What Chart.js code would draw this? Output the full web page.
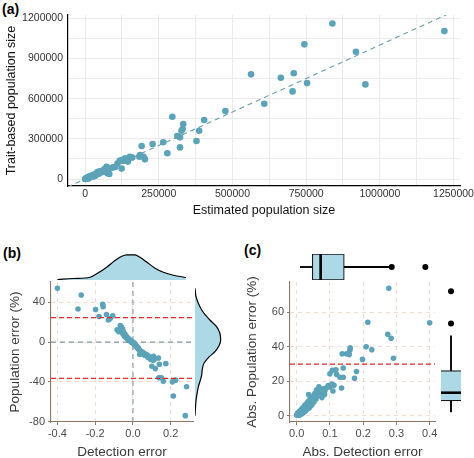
<!DOCTYPE html>
<html>
<head>
<meta charset="utf-8">
<script src="https://cdn.jsdelivr.net/npm/chart.js@4.4.1/dist/chart.umd.min.js"></script>
<style>
  body { margin: 0; background: #fff; width: 474px; height: 458px; overflow: hidden; position: relative; }
  canvas, .tag { position: absolute; }
  .tag { font-family: 'Liberation Sans', Arial, sans-serif; font-weight: bold; font-size: 14px; line-height: 14px; color: #000; }
</style>
</head>
<body>
<div class="tag" style="left:2px;top:2px">(a)</div>
<div class="tag" style="left:3px;top:246px">(b)</div>
<div class="tag" style="left:244px;top:243px">(c)</div>
<canvas id="chartA" width="474" height="230" style="left:0;top:0"></canvas>
<canvas id="chartB" width="237" height="240" style="left:0;top:230px"></canvas>
<canvas id="densTop" width="142" height="30" style="left:51px;top:250px"></canvas>
<canvas id="densRight" width="30" height="140" style="left:195px;top:282px"></canvas>
<canvas id="chartC" width="237" height="240" style="left:237px;top:230px"></canvas>
<canvas id="boxTop" width="145" height="34" style="left:290px;top:250px"></canvas>
<canvas id="boxRight" width="28" height="140" style="left:437px;top:282px"></canvas>
<script>
// ---- (a) estimated vs trait-based population size
const estPop = [839000, 1219000, 744000, 919000, 563000, 664000, 708000, 753000, 951000, 704000,
  608000, 476000, 296000, 404000, 333000, 331000, 327000, 387000, 313000, 322000,
  378000, 322000, 265000, 229000, 192000, 279000, 186000, 198000, 203000, 184000,
  152000, 147000, 136000, 126000, 130000, 124000, 85000, 73000, 77000, 68000,
  76000, 82000, 95000, 102000, 160000, 140000, 60000, 55000, 48000, 42000,
  38000, 35000, 30000, 26000, 22000, 18000, 15000, 11000, 8000, 5000,
  2000, 0, 3000, 13000, 20000, 28000, 45000, 50000, 65000, 70000,
  90000, 110000, 145000, 118000, 33000, 10000];
const traitPop = [1161000, 1104000, 1005000, 950000, 781000, 756000, 789000, 716000, 706000, 654000,
  562000, 507000, 465000, 440000, 410000, 373000, 360000, 360000, 321000, 311000,
  284000, 236000, 274000, 261000, 246000, 192000, 179000, 166000, 147000, 166000,
  166000, 147000, 154000, 142000, 134000, 78000, 80000, 92000, 67000, 54000,
  43000, 37000, 88000, 90000, 160000, 150000, 60000, 50000, 46000, 52000,
  40000, 28000, 34000, 22000, 26000, 15000, 20000, 10000, 12000, 4000,
  1000, 0, 6000, 8000, 18000, 20000, 38000, 58000, 72000, 78000,
  82000, 115000, 130000, 138000, 22000, 3000];
const aTicksX = [0, 250000, 500000, 750000, 1000000, 1250000];
const aMinorX = [125000, 375000, 625000, 875000, 1125000];
const aTicksY = [0, 300000, 600000, 900000, 1200000];
const aMinorY = [150000, 450000, 750000, 1050000];
const oneToOne = [-60000, 1300000];

// ---- (b) detection error vs population error (%)
const detErr = [-0.400, -0.274, -0.291, -0.198, -0.160, -0.158, -0.180, -0.140, -0.130, -0.107,
  -0.120, -0.084, -0.067, -0.060, -0.076, -0.062, -0.058, -0.055, -0.052, -0.050,
  -0.047, -0.045, -0.042, -0.040, -0.037, -0.035, -0.032, -0.030, -0.027, -0.025,
  -0.022, -0.020, -0.017, -0.015, -0.012, -0.010, -0.007, -0.005, -0.002, 0.000,
  0.003, 0.006, 0.008, 0.011, 0.014, 0.016, 0.019, 0.022, 0.025, 0.028,
  0.031, 0.034, 0.036, 0.038, 0.041, 0.044, 0.047, 0.050, 0.053, 0.056,
  0.060, 0.064, 0.068, 0.072, 0.076, 0.080, 0.085, 0.090, 0.095, 0.100,
  0.106, 0.109, 0.112, 0.100, 0.118, 0.135, 0.140, 0.174, 0.137, 0.150,
  0.161, 0.209, 0.226, 0.214, 0.284, 0.277];
const popErr = [54.0, 47.3, 33.3, 32.7, 38.0, 35.5, 25.7, 27.7, 22.3, 26.3,
  24.0, 12.3, 16.7, 15.0, 10.5, 11.5, 9.5, 12.8, 8.0, 10.2,
  7.0, 6.0, 7.8, 5.2, 4.5, 5.8, 3.8, 4.6, 3.0, 2.4,
  3.2, 1.8, 1.2, 2.0, 0.6, 1.0, -0.2, 0.4, -0.8, -0.3,
  -1.5, -1.0, -2.4, -3.0, -2.6, -4.0, -4.6, -5.0, -6.2, -5.8,
  -7.2, -8.0, -12.3, -8.8, -9.8, -10.4, -11.0, -10.0, -12.0, -12.6,
  -11.5, -13.2, -12.3, -14.0, -13.0, -15.6, -14.5, -16.2, -17.5, -16.7,
  -18.4, -14.3, -17.7, -24.3, -26.7, -16.0, -22.3, -21.7, -36.0, -36.0,
  -39.5, -40.0, -38.3, -54.3, -45.0, -74.0];
const popErrLimits = [24.5, -36.6];
const bTicksX = [-0.4, -0.2, 0, 0.2];
const bTicksY = [-80, -40, 0, 40];
// marginal densities (relative height, peak = 1)
const densDetX = [-0.40, -0.316, -0.227, -0.183, -0.139, -0.095, -0.059, -0.033, 0.011, 0.037, 0.073, 0.117, 0.161, 0.214, 0.281];
const densDetY = [0.02, 0.06, 0.11, 0.29, 0.51, 0.77, 0.94, 1.0, 1.0, 0.90, 0.71, 0.47, 0.31, 0.19, 0.10];
const densPopY = [54.1, 45.7, 39.1, 30.7, 22.2, 15.5, 8.9, 2.1, -3.0, -9.7, -14.7, -21.4, -28.3, -33.2, -39.9, -45.0, -53.4, -61.7, -74.2];
const densPopX = [0, 0.04, 0.13, 0.30, 0.58, 0.84, 0.97, 1.0, 0.95, 0.78, 0.56, 0.35, 0.28, 0.26, 0.19, 0.13, 0.07, 0.03, 0];

// ---- (c) absolute errors, same populations as (b)
const absDet = detErr.map(Math.abs);
const absPop = popErr.map(Math.abs);
const absPopLimit = 30;
const cTicksX = [0, 0.1, 0.2, 0.3, 0.4];
const cTicksY = [0, 20, 40, 60];
// boxplots: [lower whisker, q1, median, q3, upper whisker]
const boxDet = [0, 0.038, 0.068, 0.14, 0.285];
const boxDetOut = [0.291, 0.398];
const boxPop = [0, 6.8, 12.6, 25.5, 47];
const boxPopOut = [54.5, 74.5];

// ranges of the panels
const aX = [-58000, 1272000], aY = [-52000, 1224000];
const bX = [-0.434, 0.318], bY = [-80.4, 60.4];
const cX = [-0.02, 0.416], cY = [-3.7, 77.7];

const pointCol = '#5ba3b9';
const fillCol = '#add8e6';
const red = '#e8262b';
const axisBrown = '#8b7765';

Chart.defaults.font.family = "'Liberation Sans', Arial, sans-serif";
Chart.defaults.animation = false;
Chart.defaults.events = [];
Chart.defaults.plugins.legend.display = false;
Chart.defaults.plugins.tooltip.enabled = false;

const fixed = (w, h) => (s) => {
  if (w != null) s.width = w;
  if (h != null) s.height = h;
  s.paddingLeft = s.paddingRight = s.paddingTop = s.paddingBottom = 0;
};
const useTicks = (vals) => (s) => { s.ticks = vals.map(v => ({ value: v })); };
const pairs = (xs, ys) => xs.map((x, i) => ({ x: x, y: ys[i] }));

// ---------- panel (a)
new Chart(document.getElementById('chartA'), {
  type: 'scatter',
  data: {
    datasets: [
      { data: pairs(estPop, traitPop), pointRadius: 3.3, pointBackgroundColor: pointCol, pointBorderWidth: 0, order: 2 },
      { data: pairs(oneToOne, oneToOne), showLine: true, pointRadius: 0, borderColor: '#6b9dab', borderWidth: 1.1, borderDash: [5, 4], order: 1 },
    ],
  },
  options: {
    responsive: false,
    layout: { padding: { top: 15, right: 14, left: 0, bottom: 0 } },
    scales: {
      x: {
        type: 'linear', min: aX[0], max: aX[1],
        afterBuildTicks: useTicks(aTicksX.concat(aMinorX).sort((p, q) => p - q)),
        afterFit: fixed(null, 44),
        grid: { color: '#ebebeb', drawTicks: false },
        border: { color: '#000', width: 1.2 },
        ticks: { autoSkip: false, maxRotation: 0, padding: 2, color: '#333', font: { size: 10.5 },
          callback: v => aTicksX.includes(v) ? String(v) : '' },
        title: { display: true, text: 'Estimated population size', color: '#111', font: { size: 12.5 }, padding: { top: 0, bottom: 12 } },
      },
      y: {
        type: 'linear', min: aY[0], max: aY[1],
        afterBuildTicks: useTicks(aTicksY.concat(aMinorY).sort((p, q) => p - q)),
        afterFit: fixed(68, null),
        grid: { color: '#ebebeb', drawTicks: false },
        border: { color: '#000', width: 1.2 },
        ticks: { autoSkip: false, padding: 5, color: '#333', font: { size: 10.5 },
          callback: v => aTicksY.includes(v) ? String(v) : '' },
        title: { display: true, text: 'Trait-based population size', color: '#111', font: { size: 12.5 }, padding: { top: 4.5, bottom: 0 } },
      },
    },
  },
});

// shared look of the (b) and (c) axes
function dashedAxis(range, ticks, width, height, fmt, title, titlePad) {
  return {
    type: 'linear', min: range[0], max: range[1],
    afterBuildTicks: useTicks(ticks),
    afterFit: fixed(width, height),
    grid: { color: '#f0dcd2', lineWidth: 1, drawTicks: true, tickLength: 3, tickColor: axisBrown, tickBorderDash: [] },
    border: { color: axisBrown, width: 1.1, dash: [4, 4] },
    ticks: { autoSkip: false, maxRotation: 0, padding: width ? 3 : 2, color: '#4d4d4d', font: { size: 11 }, callback: fmt },
    title: { display: true, text: title, color: '#3a3a3a', font: { size: 13.5 }, padding: titlePad },
  };
}
const hLine = (y, xr, col, dash, order) => ({
  data: [{ x: xr[0], y: y }, { x: xr[1], y: y }], showLine: true, pointRadius: 0,
  borderColor: col, borderWidth: 1.3, borderDash: dash, order: order,
});

// ---------- panel (b)
new Chart(document.getElementById('chartB'), {
  type: 'scatter',
  data: {
    datasets: [
      { data: pairs(detErr, popErr), pointRadius: 2.8, pointBackgroundColor: pointCol, pointBorderWidth: 0, order: 2 },
      ...popErrLimits.map(v => hLine(v, bX, red, [5, 3], 1)),
      hLine(0, bX, '#7f9aa6', [5, 4], 3),
      { data: [{ x: 0, y: bY[0] }, { x: 0, y: bY[1] }], showLine: true, pointRadius: 0, borderColor: '#7f9aa6', borderWidth: 1.1, borderDash: [5, 4], order: 3 },
    ],
  },
  options: {
    responsive: false,
    layout: { padding: { top: 52, right: 44, left: 0, bottom: 0 } },
    scales: {
      x: dashedAxis(bX, bTicksX, null, 48, v => v.toFixed(1), 'Detection error', { top: 0, bottom: 10 }),
      y: dashedAxis(bY, bTicksY, 51, null, v => String(v), 'Population error (%)', { top: 7, bottom: 0 }),
    },
  },
});

// marginal density along the top of (b)
new Chart(document.getElementById('densTop'), {
  type: 'line',
  data: {
    datasets: [{
      data: pairs(densDetX, densDetY), fill: 'origin', backgroundColor: fillCol,
      borderColor: '#000', borderWidth: 1.2, pointRadius: 0, cubicInterpolationMode: 'monotone',
    }],
  },
  options: {
    responsive: false,
    scales: {
      x: { type: 'linear', min: bX[0], max: bX[1], display: false },
      y: { type: 'linear', min: 0, max: 1.19, display: false },
    },
  },
});

// marginal density on the right of (b)
new Chart(document.getElementById('densRight'), {
  type: 'line',
  data: {
    datasets: [{
      data: pairs(densPopX, densPopY), fill: 'origin', backgroundColor: fillCol,
      borderColor: '#000', borderWidth: 1.2, pointRadius: 0, cubicInterpolationMode: 'monotone',
    }],
  },
  options: {
    responsive: false,
    indexAxis: 'y',
    scales: {
      x: { type: 'linear', min: 0, max: 1.17, display: false },
      y: { type: 'linear', min: bY[0], max: bY[1], display: false },
    },
  },
});

// ---------- panel (c)
new Chart(document.getElementById('chartC'), {
  type: 'scatter',
  data: {
    datasets: [
      { data: pairs(absDet, absPop), pointRadius: 2.8, pointBackgroundColor: pointCol, pointBorderWidth: 0, order: 2 },
      hLine(absPopLimit, cX, red, [5, 3], 1),
    ],
  },
  options: {
    responsive: false,
    layout: { padding: { top: 52, right: 39, left: 0, bottom: 0 } },
    scales: {
      x: dashedAxis(cX, cTicksX, null, 48, v => v.toFixed(1), 'Abs. Detection error', { top: 0, bottom: 10 }),
      y: dashedAxis(cY, cTicksY, 53, null, v => String(v), 'Abs. Population error (%)', { top: 7, bottom: 0 }),
    },
  },
});

// boxplot made of floating bars: whiskers, box, median edge, outliers
function boxDatasets(st, outliers, horizontal) {
  const thin = { barThickness: 1.2, backgroundColor: '#000', borderWidth: 0, grouped: false };
  const medEdge = horizontal ? { top: 0, right: 2, bottom: 0, left: 0 } : { top: 2, right: 0, bottom: 0, left: 0 };
  return [
    { type: 'line', data: outliers.map(v => horizontal ? { x: v, y: 'box' } : { x: 'box', y: v }),
      showLine: false, pointRadius: 3, pointBackgroundColor: '#000', pointBorderWidth: 0, order: 0 },
    { data: [[st[1], st[2]]], barThickness: 26, backgroundColor: 'rgba(0,0,0,0)', borderColor: '#000',
      borderWidth: medEdge, borderSkipped: false, grouped: false, order: 1 },
    { data: [[st[1], st[3]]], barThickness: 26, backgroundColor: fillCol, borderColor: '#1a1a1a',
      borderWidth: 1.2, borderSkipped: false, grouped: false, order: 2 },
    Object.assign({ data: [[st[0], st[1]]], order: 3 }, thin),
    Object.assign({ data: [[st[3], st[4]]], order: 3 }, thin),
  ];
}

new Chart(document.getElementById('boxTop'), {
  type: 'bar',
  data: { labels: ['box'], datasets: boxDatasets(boxDet, boxDetOut, true) },
  options: {
    responsive: false,
    indexAxis: 'y',
    scales: {
      x: { type: 'linear', min: cX[0], max: cX[1], display: false },
      y: { type: 'category', labels: ['box'], offset: true, display: false },
    },
  },
});

new Chart(document.getElementById('boxRight'), {
  type: 'bar',
  data: { labels: ['box'], datasets: boxDatasets(boxPop, boxPopOut, false) },
  options: {
    responsive: false,
    scales: {
      x: { type: 'category', labels: ['box'], offset: true, display: false },
      y: { type: 'linear', min: cY[0], max: cY[1], display: false },
    },
  },
});
</script>
</body>
</html>
